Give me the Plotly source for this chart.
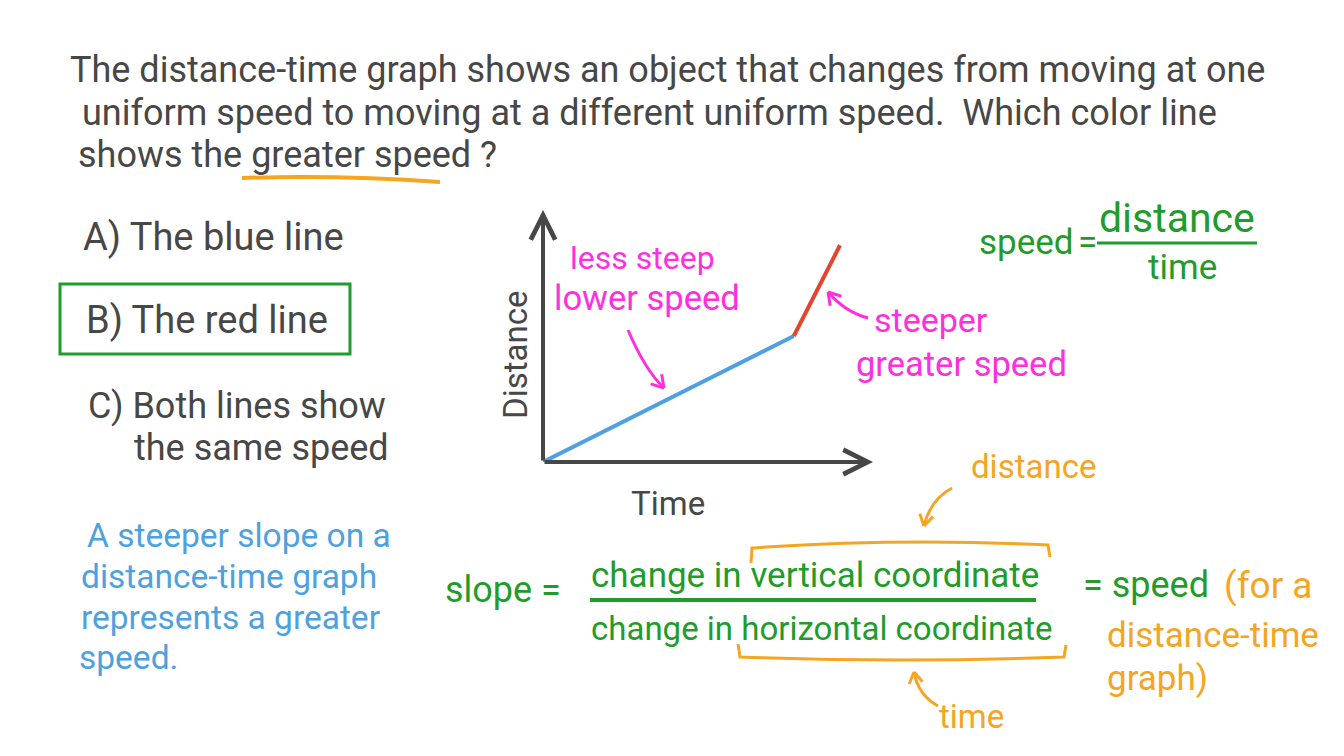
import math
import plotly.graph_objects as go

# distance-time lines (inset graph units: time 0..10, distance 0..10)
time_blue = [0, 7.6]
dist_blue = [0, 5.0]
time_red = [7.6, 9.0]
dist_red = [5.0, 8.6]

question_lines = [
    "The distance-time graph shows an object that changes from moving at one",
    "uniform speed to moving at a different uniform speed.  Which color line",
    "shows the greater speed ?",
]
options = ["A) The blue line", "B) The red line", "C) Both lines show", "the same speed"]
note_lines = ["A steeper slope on a", "distance-time graph", "represents a greater", "speed."]

W, H = 1344, 756
FONT = "Roboto, sans-serif"
GRAY = "#474747"
GREEN = "#1f9c2c"
MAGENTA = "#ff2fe0"
ORANGE = "#f5a522"
BLUE = "#4ea1e0"
RED = "#e2462f"

fig = go.Figure()

fig.add_trace(go.Scatter(x=time_blue, y=dist_blue, mode="lines", xaxis="x2", yaxis="y2",
                         line=dict(color=BLUE, width=4), hoverinfo="skip"))
fig.add_trace(go.Scatter(x=time_red, y=dist_red, mode="lines", xaxis="x2", yaxis="y2",
                         line=dict(color=RED, width=4), hoverinfo="skip"))

ann = []
shapes = []


def text(x, y, s, color=GRAY, size=34, anchor="left", angle=0):
    ann.append(dict(x=x, y=y, xref="x", yref="y", text=s, showarrow=False,
                    xanchor=anchor, yanchor="middle", textangle=angle,
                    font=dict(family=FONT, size=size, color=color)))


def path(d, color, width=3):
    shapes.append(dict(type="path", path=d, xref="x", yref="y",
                       line=dict(color=color, width=width)))


def line(x0, y0, x1, y1, color, width=3):
    shapes.append(dict(type="line", x0=x0, y0=y0, x1=x1, y1=y1, xref="x", yref="y",
                       line=dict(color=color, width=width)))


def head(tx, ty, fx, fy, color, size=14, width=3):
    # open chevron at (tx, ty), pointing away from (fx, fy)
    a = math.atan2(ty - fy, tx - fx)
    for da in (0.55, -0.55):
        line(tx, ty, tx - size * math.cos(a + da), ty - size * math.sin(a + da), color, width)


# question
qx = [68, 80, 76]
qy = [70, 113, 155]
for s, x, y in zip(question_lines, qx, qy):
    text(x, y, s, size=36)
path("M 242 178 Q 340 175 440 182", ORANGE, 4)

# options
text(81, 237, options[0], size=38)
text(84, 320, options[1], size=38)
text(86, 406, options[2], size=36)
text(132, 448, options[3], size=36)
shapes.append(dict(type="rect", x0=60, y0=284, x1=350, y1=354, xref="x", yref="y",
                   line=dict(color=GREEN, width=3)))

# blue note
for s, x, y in zip(note_lines, [85, 79, 79, 77], [535, 576, 617, 657]):
    text(x, y, s, color=BLUE, size=33.5)

# inset axis labels
text(515, 355, "Distance", size=33, anchor="center", angle=-90)
text(668, 503, "Time", size=33, anchor="center")

# magenta notes
text(568, 258, "less steep", color=MAGENTA, size=32)
text(552, 298, "lower speed", color=MAGENTA, size=34.5)
path("M 628 330 Q 645 370 664 388", MAGENTA, 3)
head(664, 388, 650, 372, MAGENTA)
text(872, 320, "steeper", color=MAGENTA, size=34)
text(854, 364, "greater speed", color=MAGENTA, size=34.5)
path("M 868 318 Q 845 312 828 292", MAGENTA, 3)
head(828, 292, 840, 306, MAGENTA)

# speed = distance / time
text(977, 242, "speed", color=GREEN, size=35)
text(1076, 242, "=", color=GREEN, size=35)
text(1177, 218, "distance", color=GREEN, size=41, anchor="center")
text(1182, 267, "time", color=GREEN, size=35, anchor="center")
line(1097, 243, 1257, 243, GREEN, 3)

# slope formula
text(443, 590, "slope =", color=GREEN, size=36)
text(589, 575, "change in vertical coordinate", color=GREEN, size=35)
text(589, 628, "change in horizontal coordinate", color=GREEN, size=33)
line(590, 600, 1036, 600, GREEN, 4)
text(1081, 585, "= speed", color=GREEN, size=36)
text(1222, 585, "(for a", color=ORANGE, size=37)
text(1105, 635, "distance-time", color=ORANGE, size=35)
text(1105, 678, "graph)", color=ORANGE, size=35)

# orange brackets and labels
path("M 751 563 L 752 548 Q 900 538 1048 545 L 1050 557", ORANGE, 3)
path("M 738 644 L 740 657 Q 900 663 1064 657 L 1066 645", ORANGE, 3)
text(969, 466, "distance", color=ORANGE, size=33)
path("M 952 488 Q 930 500 924 526", ORANGE, 3)
head(924, 526, 928, 508, ORANGE, 13)
text(937, 716, "time", color=ORANGE, size=33)
path("M 938 706 Q 918 695 914 672", ORANGE, 3)
head(914, 672, 917, 690, ORANGE, 13)

# inset axes drawn as arrows from the origin
for tip in [(10.0, 0), (0, 10.0)]:
    ann.append(dict(x=tip[0], y=tip[1], ax=0, ay=0, xref="x2", yref="y2",
                    axref="x2", ayref="y2", showarrow=True, arrowhead=5,
                    arrowsize=1.2, arrowwidth=4, arrowcolor=GRAY, text=""))

x0, x1 = 543 / W, 873 / W
y0, y1 = 1 - 462 / H, 1 - 210 / H

fig.update_layout(
    width=W, height=H, margin=dict(l=0, r=0, t=0, b=0),
    paper_bgcolor="white", plot_bgcolor="rgba(0,0,0,0)", showlegend=False,
    xaxis=dict(range=[0, W], visible=False, domain=[0, 1], fixedrange=True),
    yaxis=dict(range=[H, 0], visible=False, domain=[0, 1], fixedrange=True),
    xaxis2=dict(range=[0, 10], domain=[x0, x1], anchor="y2", visible=False),
    yaxis2=dict(range=[0, 10], domain=[y0, y1], anchor="x2", visible=False),
    annotations=ann, shapes=shapes,
)

fig.write_html("out.html", config={"displayModeBar": False},
               post_script="document.body.style.margin = '0';")
